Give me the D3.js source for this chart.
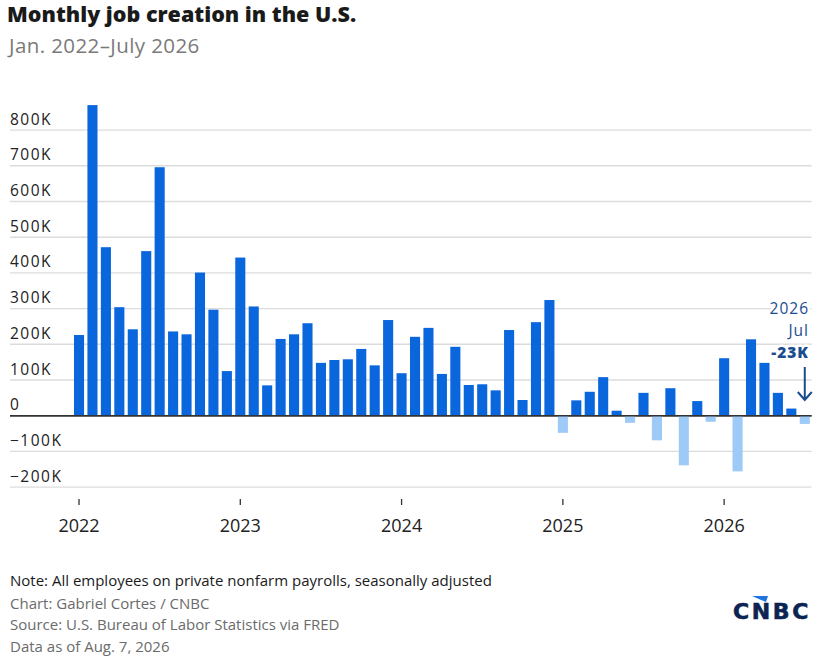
<!DOCTYPE html>
<html>
<head>
<meta charset="utf-8">
<script src="https://cdn.jsdelivr.net/npm/d3@7"></script>
<style>
  html, body { margin: 0; padding: 0; background: #fff; }
  svg { display: block; font-family: "Open Sans", "Noto Sans", sans-serif; }
</style>
</head>
<body>
<svg id="chart" width="828" height="664"></svg>
<script>
// ---- Data ----
const years = [2022, 2023, 2024, 2025, 2026];
const monthNames = ["Jan","Feb","Mar","Apr","May","Jun","Jul","Aug","Sep","Oct","Nov","Dec"];
// months: Jan 2022 .. Jul 2026 (55 months)
const months = [];
years.forEach(y => monthNames.forEach((m, i) => { if (y < 2026 || i < 7) months.push(y + "-" + m); }));
// monthly change in private nonfarm payrolls, thousands
const jobs2022 = [226, 870, 472, 304, 242, 461, 696, 236, 228, 401, 297, 125];
const jobs2023 = [443, 306, 85, 215, 228, 259, 148, 156, 158, 187, 141, 268];
const jobs2024 = [119, 221, 246, 117, 193, 86, 88, 71, 240, 44, 262, 324];
const jobs2025 = [-48, 43, 67, 108, 14, -20, 64, -69, 77, -139, 41, -17];
const jobs2026 = [161, -156, 214, 148, 64, 20, -23];
const values = [...jobs2022, ...jobs2023, ...jobs2024, ...jobs2025, ...jobs2026];
const yTicks = [-200, -100, 0, 100, 200, 300, 400, 500, 600, 700, 800];
const xTickMonths = years.map(y => y + "-Jan");
const xTickLabels = years.map(String);

const data = months.map((m, i) => ({ month: m, value: values[i] }));

// ---- Layout ----
const svg = d3.select("#chart");
const gridLeft = 10, gridRight = 811.5;

const x = d3.scaleBand()
  .domain(months)
  .range([72.3, 811.5])
  .paddingInner(0.25)
  .paddingOuter(0.125);

const y = d3.scaleLinear()
  .domain([-200, 800])
  .range([487.1, 130.1]);

// Title & subtitle
svg.append("text").attr("x", 7).attr("y", 22)
  .attr("font-size", 21.5).attr("font-weight", 800).attr("fill", "#1a1a1a")
  .text("Monthly job creation in the U.S.");
svg.append("text").attr("x", 9).attr("y", 53)
  .attr("font-size", 20.5).attr("letter-spacing", 0.4).attr("fill", "#7a7a7a")
  .text("Jan. 2022\u2013July 2026");

// Grid lines & y labels
const yAxisG = svg.append("g");
yTicks.forEach(t => {
  yAxisG.append("line")
    .attr("x1", gridLeft).attr("x2", gridRight)
    .attr("y1", y(t)).attr("y2", y(t))
    .attr("stroke", t === 0 ? "#333" : "#dcdcdc")
    .attr("stroke-width", t === 0 ? 1.6 : 1.4);
  yAxisG.append("text")
    .attr("x", gridLeft).attr("y", y(t) - 5.5)
    .attr("font-size", 15.5).attr("letter-spacing", 1.5).attr("fill", "#222")
    .text(t === 0 ? "0" : (t < 0 ? "\u2212" + Math.abs(t) : t) + "K");
});

// Bars
svg.append("g").selectAll("rect").data(data).join("rect")
  .attr("x", d => x(d.month))
  .attr("width", x.bandwidth())
  .attr("y", d => y(Math.max(0, d.value)))
  .attr("height", d => Math.abs(y(d.value) - y(0)))
  .attr("fill", d => d.value >= 0 ? "#0a66dd" : "#9dcaf6");

// redraw zero line on top
svg.append("line")
  .attr("x1", gridLeft).attr("x2", gridRight)
  .attr("y1", y(0)).attr("y2", y(0))
  .attr("stroke", "#333").attr("stroke-width", 1.6);

// X axis ticks
const xAxis = d3.axisBottom(x)
  .tickValues(xTickMonths)
  .tickSize(6)
  .tickFormat((d, i) => xTickLabels[i]);
const xg = svg.append("g").attr("transform", "translate(0,499)").call(xAxis);
xg.select(".domain").remove();
xg.selectAll(".tick line").attr("stroke", "#333").attr("stroke-width", 1.3);
xg.selectAll(".tick text")
  .attr("font-size", 18).attr("fill", "#222").attr("dy", null).attr("y", 32.5)
  .attr("font-family", "'Open Sans', sans-serif");

// Annotation for last month
const last = data[data.length - 1];
const ax = x(last.month) + x.bandwidth() / 2;
const annG = svg.append("g").attr("fill", "#1b4d8e").attr("font-size", 15.5)
  .attr("letter-spacing", 1).attr("text-anchor", "end");
const annLines = [["2026", 400, 314], ["Jul", 400, 336], [String(last.value) + "K", 800, 358]];
annLines.forEach(([t, w, yy]) => {
  annG.append("text").attr("x", 809).attr("y", yy).attr("font-weight", w)
    .attr("stroke", "#fff").attr("stroke-width", 5).attr("paint-order", "stroke")
    .attr("stroke-linejoin", "round")
    .text(t);
});
svg.append("path")
  .attr("d", `M${ax},367 L${ax},400 M${ax - 7},392 L${ax},400 L${ax + 7},392`)
  .attr("fill", "none").attr("stroke", "#1b4d8e").attr("stroke-width", 2);

// Footer
const foot = svg.append("g").attr("font-size", 15);
foot.append("text").attr("x", 10).attr("y", 586).attr("fill", "#1a1a1a")
  .text("Note: All employees on private nonfarm payrolls, seasonally adjusted");
["Chart: Gabriel Cortes / CNBC",
 "Source: U.S. Bureau of Labor Statistics via FRED",
 "Data as of Aug. 7, 2026"].forEach((t, i) => {
  foot.append("text").attr("x", 10).attr("y", 609 + i * 21.3).attr("fill", "#6b6b6b").text(t);
});

// CNBC logo
const logo = svg.append("g");
logo.append("text").attr("x", 733).attr("y", 619)
  .attr("font-size", 22).attr("font-weight", 700).attr("fill", "#0c2452")
  .attr("stroke", "#0c2452").attr("stroke-width", 0.6)
  .attr("letter-spacing", 2.6).attr("font-family", "'DejaVu Sans', sans-serif")
  .text("CNBC");
logo.append("path").attr("d", "M752,596 L768,596 L766,602 Z").attr("fill", "#1f74e0");
</script>
</body>
</html>
